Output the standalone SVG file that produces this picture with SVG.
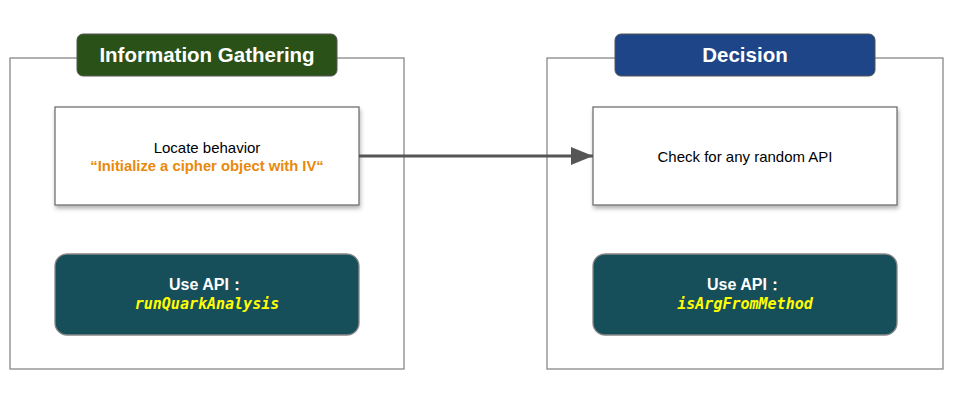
<svg xmlns="http://www.w3.org/2000/svg" width="954" height="396" viewBox="0 0 954 396">
<defs>
<filter id="sh" x="-10%" y="-10%" width="130%" height="130%">
<feDropShadow dx="1" dy="3" stdDeviation="2" flood-color="#000" flood-opacity="0.3"/>
</filter>
<marker id="ah" markerWidth="22" markerHeight="18" refX="22" refY="9" orient="auto" markerUnits="userSpaceOnUse">
<path d="M0,0 L22,9 L0,18 Z" fill="#555"/>
</marker>
<style>
.cont{fill:#fff;stroke:#888;stroke-width:1.3}
.hdr-t{font-family:"Liberation Sans",Arial,sans-serif;font-weight:bold;font-size:20.5px;fill:#fff;text-anchor:middle}
.box{fill:#fff;stroke:#666;stroke-width:1.2;filter:url(#sh)}
.txt{font-family:"Liberation Sans",Arial,sans-serif;font-size:15px;fill:#000;text-anchor:middle}
.or{font-weight:bold;fill:#e8890c;font-size:14.8px}
.api{fill:#164e5a;stroke:#888;stroke-width:1.3}
.api-t{font-family:"Liberation Sans",Arial,sans-serif;font-weight:bold;font-size:16px;fill:#fff;text-anchor:middle}
.code{font-family:"DejaVu Sans Mono","Liberation Mono",monospace;font-weight:bold;font-style:italic;font-size:15px;fill:#ffff00;text-anchor:middle}
</style>
</defs>
<g id="info-gathering">
<rect class="cont" x="10" y="58" width="394" height="311"/>
<rect x="77" y="34" width="260" height="42" rx="6" fill="#2a5218" stroke="#555" stroke-width="1"/>
<text class="hdr-t" x="207" y="62">Information Gathering</text>
</g>
<g id="decision">
<rect class="cont" x="547" y="58" width="396" height="311"/>
<rect x="615" y="34" width="260" height="42" rx="6" fill="#1e4588" stroke="#555" stroke-width="1"/>
<text class="hdr-t" x="745" y="62">Decision</text>
</g>
<g id="locate">
<rect class="box" x="55" y="107" width="304" height="98"/>
<text class="txt" x="207" y="153">Locate behavior</text>
<text class="txt or" x="207" y="171">“Initialize a cipher object with IV“</text>
</g>
<g id="check">
<rect class="box" x="593" y="107" width="304" height="98"/>
<text class="txt" x="745" y="162">Check for any random API</text>
</g>
<g id="api1">
<rect class="api" x="55" y="254" width="304" height="81" rx="12"/>
<text class="api-t" x="207" y="290">Use API：</text>
<text class="code" x="207" y="309">runQuarkAnalysis</text>
</g>
<g id="api2">
<rect class="api" x="593" y="254" width="304" height="81" rx="12"/>
<text class="api-t" x="745" y="290">Use API：</text>
<text class="code" x="745" y="309">isArgFromMethod</text>
</g>
<g id="connectors">
<line x1="359" y1="156" x2="593" y2="156" stroke="#555" stroke-width="3" marker-end="url(#ah)"/>
</g>
</svg>
